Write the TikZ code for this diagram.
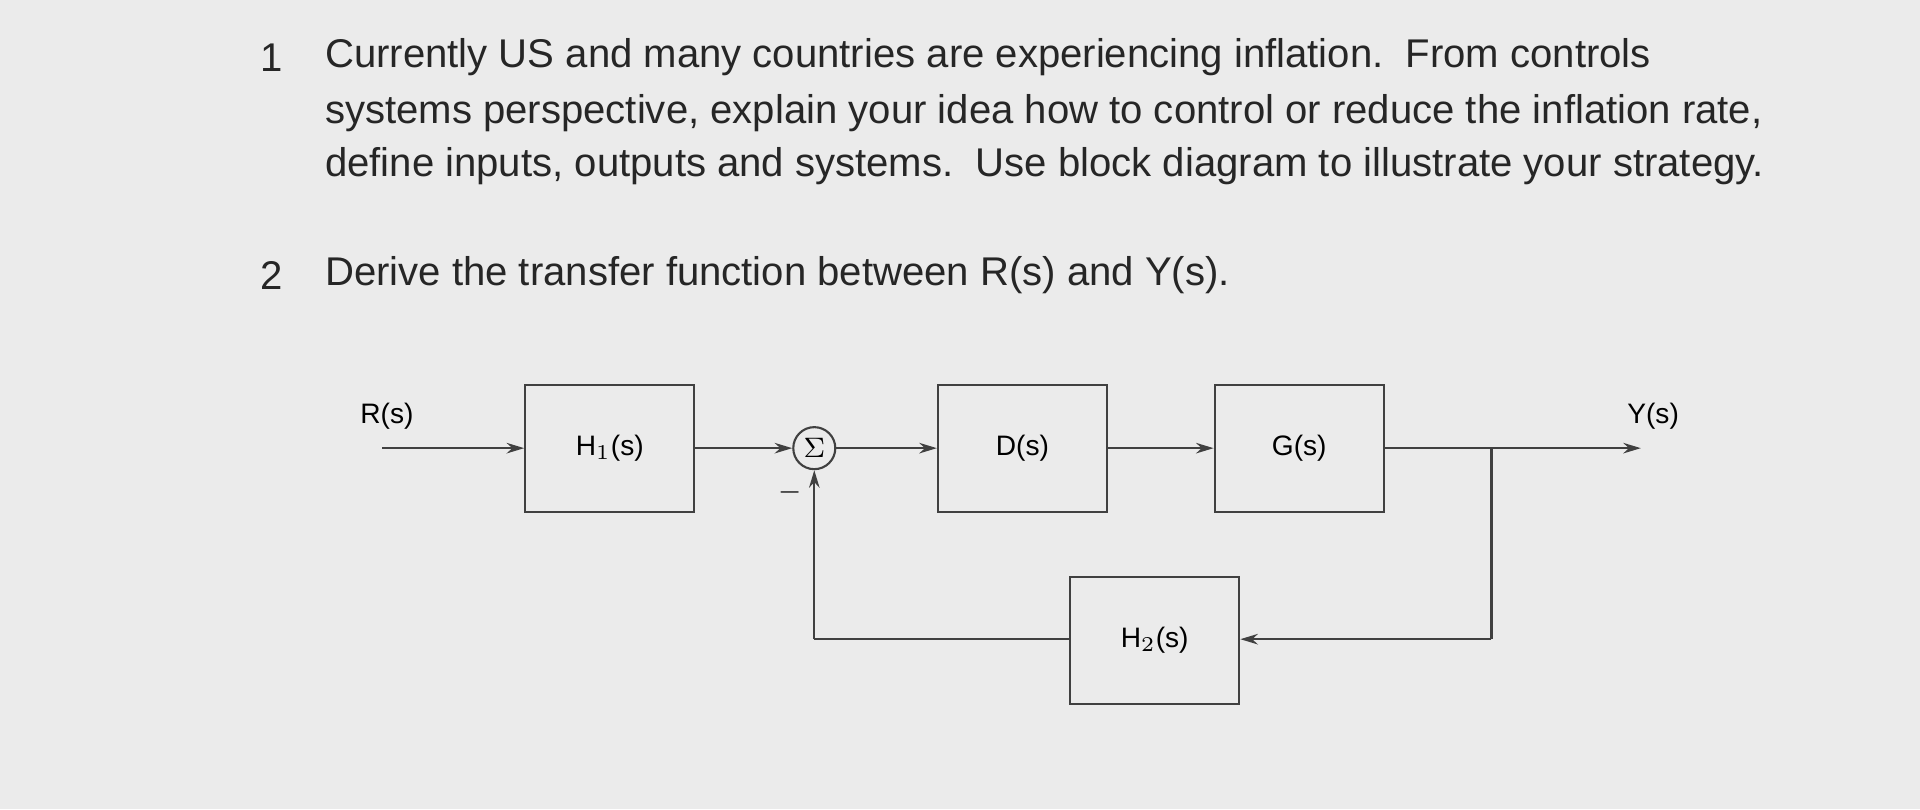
\documentclass[tikz,border=0pt]{standalone}
\usepackage{fontspec}
\setmainfont{Liberation Sans}
\usetikzlibrary{arrows.meta}
\begin{document}
\begin{tikzpicture}[x=0.012245cm,y=-0.012245cm,
  txt/.style={anchor=west,inner sep=0pt,font=\fontsize{11.4}{15}\selectfont,text=black!85},
  blk/.style={draw=black!75,line width=0.6pt,minimum width=1.69cm,minimum height=1.27cm,font=\fontsize{8}{10}\selectfont},
  lab/.style={font=\fontsize{8}{10}\selectfont,inner sep=1pt},
  con/.style={draw=black!75,line width=0.6pt,-{Stealth[length=5pt,width=3pt]}},
  ln/.style={draw=black!75,line width=0.6pt}]
\fill[black!8] (0,0) rectangle (1568,661);
\useasboundingbox (0,0) rectangle (1568,661);
\node[txt] (n1) at (212,47) {1};
\node[txt] (l1) at (265,47) {Currently US and many countries are experiencing inflation.\ \ From controls};
\node[txt] (l2) at (265,92) {systems perspective, explain your idea how to control or reduce the inflation rate,};
\node[txt] (l3) at (265,136) {define inputs, outputs and systems.\ \ Use block diagram to illustrate your strategy.};
\node[txt] (n2) at (212,225) {2};
\node[txt] (l4) at (265,225) {Derive the transfer function between R(s) and Y(s).};

\node[blk] (h1) at (498,366) {H$_1$(s)};
\node[blk] (d) at (835,366) {D(s)};
\node[blk] (g) at (1061,366) {G(s)};
\node[blk] (h2) at (943,523) {H$_2$(s)};
\node[draw=black!75,line width=0.6pt,circle,minimum size=0.42cm,inner sep=0pt,font=\fontsize{8}{10}\selectfont] (s) at (665,366) {$\Sigma$};
\coordinate (rin) at (312,366);
\coordinate (yout) at (1340,366);
\coordinate (br) at (1218,366);
\coordinate (bb) at (1218,522);
\coordinate (fl) at (665,522);
\node[lab] (rl) at (316,340) {R(s)};
\node[lab] (yl) at (1350,340) {Y(s)};
\node[lab] (mn) at (645,402) {$-$};
\draw[con] (rin) -- (h1);
\draw[con] (h1) -- (s);
\draw[con] (s) -- (d);
\draw[con] (d) -- (g);
\draw[con] (g.east) -- (yout);
\draw[ln] (br) -- (bb);
\draw[con] (bb) -- (h2.east |- bb);
\draw[ln] (h2.west |- fl) -- (fl);
\draw[con] (fl) -- (s.south);
\end{tikzpicture}
\end{document}
